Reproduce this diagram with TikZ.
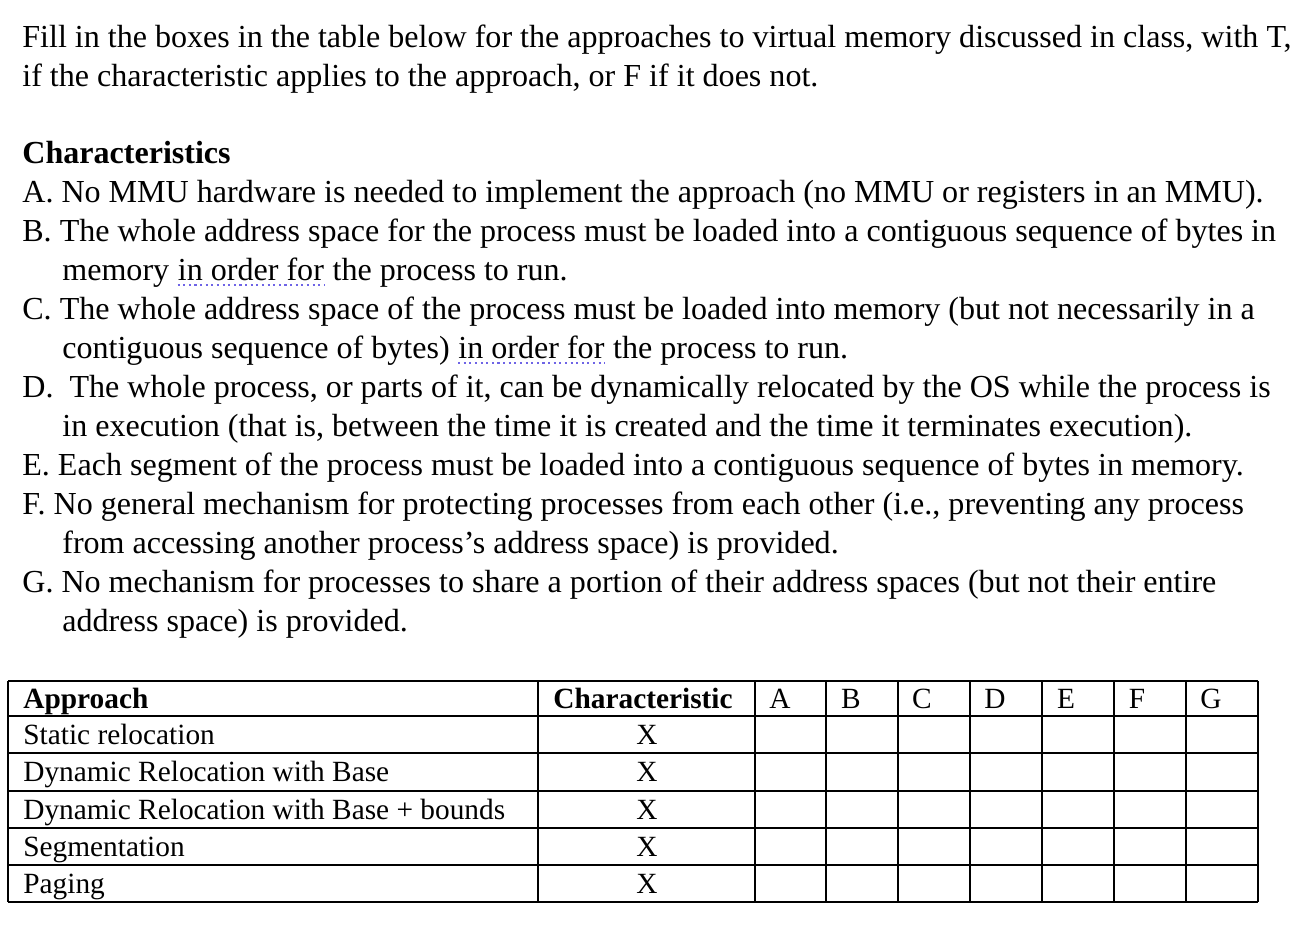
\documentclass[tikz,border=0pt]{standalone}
\usepackage{fontspec}
\setmainfont{Liberation Serif}
\begin{document}
\begin{tikzpicture}[x=0.02cm,y=-0.02cm,
  txt/.style={anchor=base west,inner sep=0pt,font=\fontsize{18.25}{21}\selectfont},
  ttxt/.style={anchor=base west,inner sep=0pt,font=\fontsize{16.7}{19}\selectfont},
  ctxt/.style={anchor=base,inner sep=0pt,font=\fontsize{16.7}{19}\selectfont},
  grammar/.style={draw={rgb,255:red,110;green,100;blue,230},line width=1.2pt,dotted},
  grid/.style={draw=black,line width=0.6pt}]
\useasboundingbox (0,0) rectangle (1316,928);
\node[txt] (l1) at (22,48) {Fill in the boxes in the table below for the approaches to virtual memory discussed in class, with T,};
\node[txt] (l2) at (22,87) {if the characteristic applies to the approach, or F if it does not.};
\node[txt] (h) at (22,164) {\textbf{Characteristics}};
\node[txt] (a) at (22,203) {A. No MMU hardware is needed to implement the approach (no MMU or registers in an MMU).};
\node[txt] (b1) at (22,242) {B. The whole address space for the process must be loaded into a contiguous sequence of bytes in};
\node[txt] (b2) at (62,281) {memory\ \mbox{}};
\node[txt] (b2u) at (b2.base east) {in order for};
\node[txt] (b2r) at (b2u.base east) {\ the process to run.};
\node[txt] (c1) at (22,320) {C. The whole address space of the process must be loaded into memory (but not necessarily in a};
\node[txt] (c2) at (62,359) {contiguous sequence of bytes)\ \mbox{}};
\node[txt] (c2u) at (c2.base east) {in order for};
\node[txt] (c2r) at (c2u.base east) {\ the process to run.};
\node[txt] (d1) at (22,398) {D.\ \ The whole process, or parts of it, can be dynamically relocated by the OS while the process is};
\node[txt] (d2) at (62,437) {in execution (that is, between the time it is created and the time it terminates execution).};
\node[txt] (e) at (22,476) {E. Each segment of the process must be loaded into a contiguous sequence of bytes in memory.};
\node[txt] (f1) at (22,515) {F. No general mechanism for protecting processes from each other (i.e., preventing any process};
\node[txt] (f2) at (62,554) {from accessing another process’s address space) is provided.};
\node[txt] (g1) at (22,593) {G. No mechanism for processes to share a portion of their address spaces (but not their entire};
\node[txt] (g2) at (62,632) {address space) is provided.};
\draw[grammar] ([yshift=-2pt]b2u.south west) -- ([yshift=-2pt]b2u.south east);
\draw[grammar] ([yshift=-2pt]c2u.south west) -- ([yshift=-2pt]c2u.south east);
% table
\foreach \yy in {681,716,753,791,828,865,902} \draw[grid] (8,\yy) -- (1258,\yy);
\foreach \xx in {8,538,755,826,898,970,1042,1114,1186,1258} \draw[grid] (\xx,681) -- (\xx,902);
\node[ttxt] (th) at (23,709) {\textbf{Approach}};
\node[ctxt] (tc) at (643,709) {\textbf{Characteristic}};
\foreach \l/\xx in {A/780,B/851,C/922,D/995,E/1066,F/1137,G/1211} \node[ctxt] at (\xx,709) {\l};
\foreach \t/\yy in {Static relocation/745,Dynamic Relocation with Base/782,Dynamic Relocation with Base + bounds/820,Segmentation/857,Paging/894}{
  \node[ttxt] at (23,\yy) {\t};
  \node[ctxt] at (647,\yy) {X};}
\end{tikzpicture}
\end{document}
